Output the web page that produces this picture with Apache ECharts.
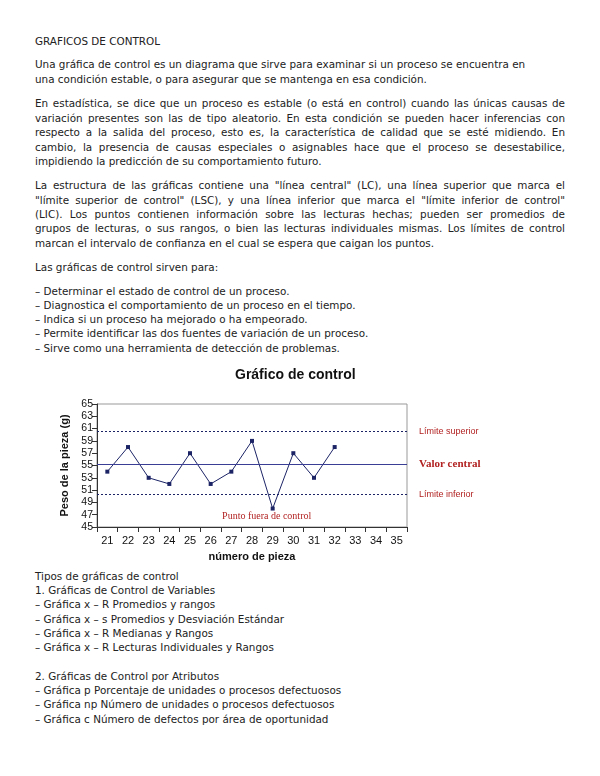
<!DOCTYPE html>
<html><head><meta charset="utf-8">
<script src="https://cdn.jsdelivr.net/npm/echarts@6/dist/echarts.min.js"></script>
<style>
body{margin:0;background:#fff;font-family:"DejaVu Sans",sans-serif;font-size:10.4px;color:#222}
.l{position:absolute;left:35px;width:530px;height:15px;line-height:15px;white-space:nowrap}
.j{text-align:justify;text-align-last:justify;white-space:normal}
#chart{position:absolute;left:40px;top:360px;width:500px;height:215px}
</style></head><body>
<div id="txt"></div>
<div id="chart"></div>
<script>
// [center y, justify?, text]
const lines = [
  [42, 0, 'GRAFICOS DE CONTROL'],
  [65, 0, 'Una gráfica de control es un diagrama que sirve para examinar si un proceso se encuentra en'],
  [80, 0, 'una condición estable, o para asegurar que se mantenga en esa condición.'],
  [104, 1, 'En estadística, se dice que un proceso es estable (o está en control) cuando las únicas causas de'],
  [119, 1, 'variación presentes son las de tipo aleatorio. En esta condición se pueden hacer inferencias con'],
  [133, 1, 'respecto a la salida del proceso, esto es, la característica de calidad que se esté midiendo. En'],
  [148, 1, 'cambio, la presencia de causas especiales o asignables hace que el proceso se desestabilice,'],
  [162, 0, 'impidiendo la predicción de su comportamiento futuro.'],
  [186, 1, 'La estructura de las gráficas contiene una "línea central" (LC), una línea superior que marca el'],
  [201, 1, '"límite superior de control" (LSC), y una línea inferior que marca el "límite inferior de control"'],
  [215, 1, '(LIC). Los puntos contienen información sobre las lecturas hechas; pueden ser promedios de'],
  [229, 1, 'grupos de lecturas, o sus rangos, o bien las lecturas individuales mismas. Los límites de control'],
  [244, 0, 'marcan el intervalo de confianza en el cual se espera que caigan los puntos.'],
  [268, 0, 'Las gráficas de control sirven para:'],
  [292, 0, '– Determinar el estado de control de un proceso.'],
  [306, 0, '– Diagnostica el comportamiento de un proceso en el tiempo.'],
  [320, 0, '– Indica si un proceso ha mejorado o ha empeorado.'],
  [334, 0, '– Permite identificar las dos fuentes de variación de un proceso.'],
  [349, 0, '– Sirve como una herramienta de detección de problemas.'],
  [577, 0, 'Tipos de gráficas de control'],
  [591, 0, '1. Gráficas de Control de Variables'],
  [605, 0, '– Gráfica x – R Promedios y rangos'],
  [620, 0, '– Gráfica x – s Promedios y Desviación Estándar'],
  [634, 0, '– Gráfica x – R Medianas y Rangos'],
  [648, 0, '– Gráfica x – R Lecturas Individuales y Rangos'],
  [677, 0, '2. Gráficas de Control por Atributos'],
  [691, 0, '– Gráfica p Porcentaje de unidades o procesos defectuosos'],
  [705, 0, '– Gráfica np Número de unidades o procesos defectuosos'],
  [720, 0, '– Gráfica c Número de defectos por área de oportunidad']
];
const txt = document.getElementById('txt');
lines.forEach(function (r) {
  const d = document.createElement('div');
  d.className = 'l' + (r[1] ? ' j' : '');
  d.style.top = (r[0] - 8) + 'px';
  d.textContent = r[2];
  txt.appendChild(d);
});

const piezas = ['21','22','23','24','25','26','27','28','29','30','31','32','33','34','35'];
const pesos = [54, 58, 53, 52, 57, 52, 54, 59, 48, 57, 53, 58];
const limiteSuperior = 60.5;
const valorCentral = 55.2;
const limiteInferior = 50.3;

const chart = echarts.init(document.getElementById('chart'));
const red = '#b22222';
chart.setOption({
  animation: false,
  title: {
    text: 'Gráfico de control', left: 190, top: 3,
    textStyle: {fontFamily: 'Liberation Sans', fontSize: 14, fontWeight: 'bold', color: '#111'}
  },
  grid: {left: 57, top: 44, width: 310, height: 123, show: true, borderColor: '#999', borderWidth: 1},
  xAxis: {
    type: 'category', data: piezas, boundaryGap: true,
    name: 'número de pieza', nameLocation: 'middle', nameGap: 24,
    nameTextStyle: {fontFamily: 'Liberation Sans', fontWeight: 'bold', fontSize: 11, color: '#111'},
    axisLine: {lineStyle: {color: '#333'}},
    axisTick: {show: true, inside: false, lineStyle: {color: '#333'}},
    axisLabel: {fontFamily: 'Liberation Sans', fontSize: 11, color: '#111', margin: 8}
  },
  yAxis: {
    type: 'value', min: 45, max: 65, interval: 2,
    name: 'Peso de la pieza (g)', nameLocation: 'middle', nameGap: 24,
    nameTextStyle: {fontFamily: 'Liberation Sans', fontWeight: 'bold', fontSize: 11, color: '#111'},
    axisLine: {show: true, lineStyle: {color: '#333'}},
    axisTick: {show: true, lineStyle: {color: '#333'}},
    splitLine: {show: false},
    axisLabel: {fontFamily: 'Liberation Sans', fontSize: 10.5, color: '#111', margin: 4}
  },
  series: [{
    type: 'line', data: pesos,
    symbol: 'rect', symbolSize: 4,
    lineStyle: {color: '#1c2466', width: 1},
    itemStyle: {color: '#1c2466'},
    markLine: {
      silent: true, symbol: 'none',
      label: {position: 'end', distance: 12, fontSize: 9, color: red, fontFamily: 'Liberation Sans'},
      data: [
        {yAxis: limiteSuperior, name: 'Límite superior', label: {formatter: '{b}'},
          lineStyle: {type: [2, 2], color: '#1c2466', width: 1.2}},
        {yAxis: valorCentral, name: 'Valor central',
          label: {formatter: '{b}', fontFamily: 'Liberation Serif', fontWeight: 'bold', fontSize: 11},
          lineStyle: {type: 'solid', color: '#3a3f95', width: 1}},
        {yAxis: limiteInferior, name: 'Límite inferior', label: {formatter: '{b}'},
          lineStyle: {type: [2, 2], color: '#1c2466', width: 1}}
      ]
    },
    markPoint: {
      symbol: 'circle', symbolSize: 1,
      itemStyle: {color: 'rgba(0,0,0,0)'},
      label: {show: true, position: 'inside', formatter: 'Punto fuera de control', offset: [-6, 0],
        fontFamily: 'Liberation Serif', fontSize: 10, color: red},
      data: [{coord: ['29', 46.8]}]
    }
  }]
});
</script>
</body></html>
